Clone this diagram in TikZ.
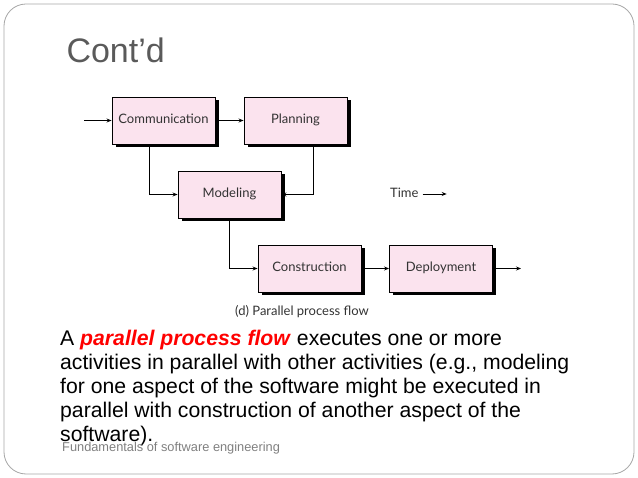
\documentclass[tikz,border=0pt]{standalone}
\usepackage{fontspec}
\setmainfont{Liberation Sans}
\newfontfamily\diagfont{Lato}
\usetikzlibrary{arrows.meta,shadows}
\definecolor{boxpink}{HTML}{FBE3EE}
\definecolor{titlegray}{HTML}{5A5A5A}
\tikzset{
  dfont/.style={font=\diagfont\fontsize{13}{15}\selectfont, text=black!80, text height=9.5pt, text depth=2.5pt},
  pbox/.style={draw=black, line width=0.9pt, fill=boxpink, minimum width=103pt, minimum height=47pt,
    dfont, inner sep=0pt,
    drop shadow={shadow xshift=3.5pt, shadow yshift=-3.5pt, fill=black, opacity=1}},
  flow/.style={line width=0.9pt, -{Stealth[length=5pt,width=4pt]}},
}
\begin{document}
\begin{tikzpicture}[x=1pt,y=-1pt]
\useasboundingbox (0,0) rectangle (638,478);
\draw[gray!70, line width=0.8pt, rounded corners=22pt] (4,4) rectangle (634,474);
\node[anchor=west, text=titlegray, font=\fontsize{34}{38}\selectfont] (title) at (63,50) {Cont’d};
\node[pbox] (comm) at (163.5,120.5) {Communication};
\node[pbox] (plan) at (295.5,120.5) {Planning};
\node[pbox] (model) at (229.5,194.5) {Modeling};
\node[pbox] (cons) at (309.5,268.5) {Construction};
\node[pbox] (dep) at (441,268.5) {Deployment};
\coordinate (in) at (84,120.5);
\coordinate (out) at (521,268.5);
\draw[flow] (in) -- (comm);
\draw[flow] (comm) -- (plan);
\draw[flow] (cons) -- (dep);
\draw[flow] (dep) -- (out);
\draw[flow] (comm.south -| 149,0) |- (model.west);
\draw[flow] (plan.south -| 313,0) |- (model.east);
\draw[flow] (model.south) |- (cons.west);
\node[anchor=west, dfont, inner sep=0pt] (time) at (390,194) {Time};
\draw[flow] (time.east) ++(4,0) coordinate (t1) -- ++(24,0) coordinate (t2);
\node[dfont] (cap) at (302,312) {(d) Parallel process flow};
\node[anchor=north west, align=left, font=\fontsize{21.2}{24}\selectfont, inner sep=0pt] (body) at (60,330)
{A \textcolor{red}{\textbf{\textit{parallel process flow}}} executes one or more\\
activities in parallel with other activities (e.g., modeling\\
for one aspect of the software might be executed in\\
parallel with construction of another aspect of the\\
software).};
\node[anchor=west, text=gray, font=\fontsize{12.8}{14}\selectfont, inner sep=0pt] (foot) at (62,448) {Fundamentals of software engineering};
\end{tikzpicture}
\end{document}
